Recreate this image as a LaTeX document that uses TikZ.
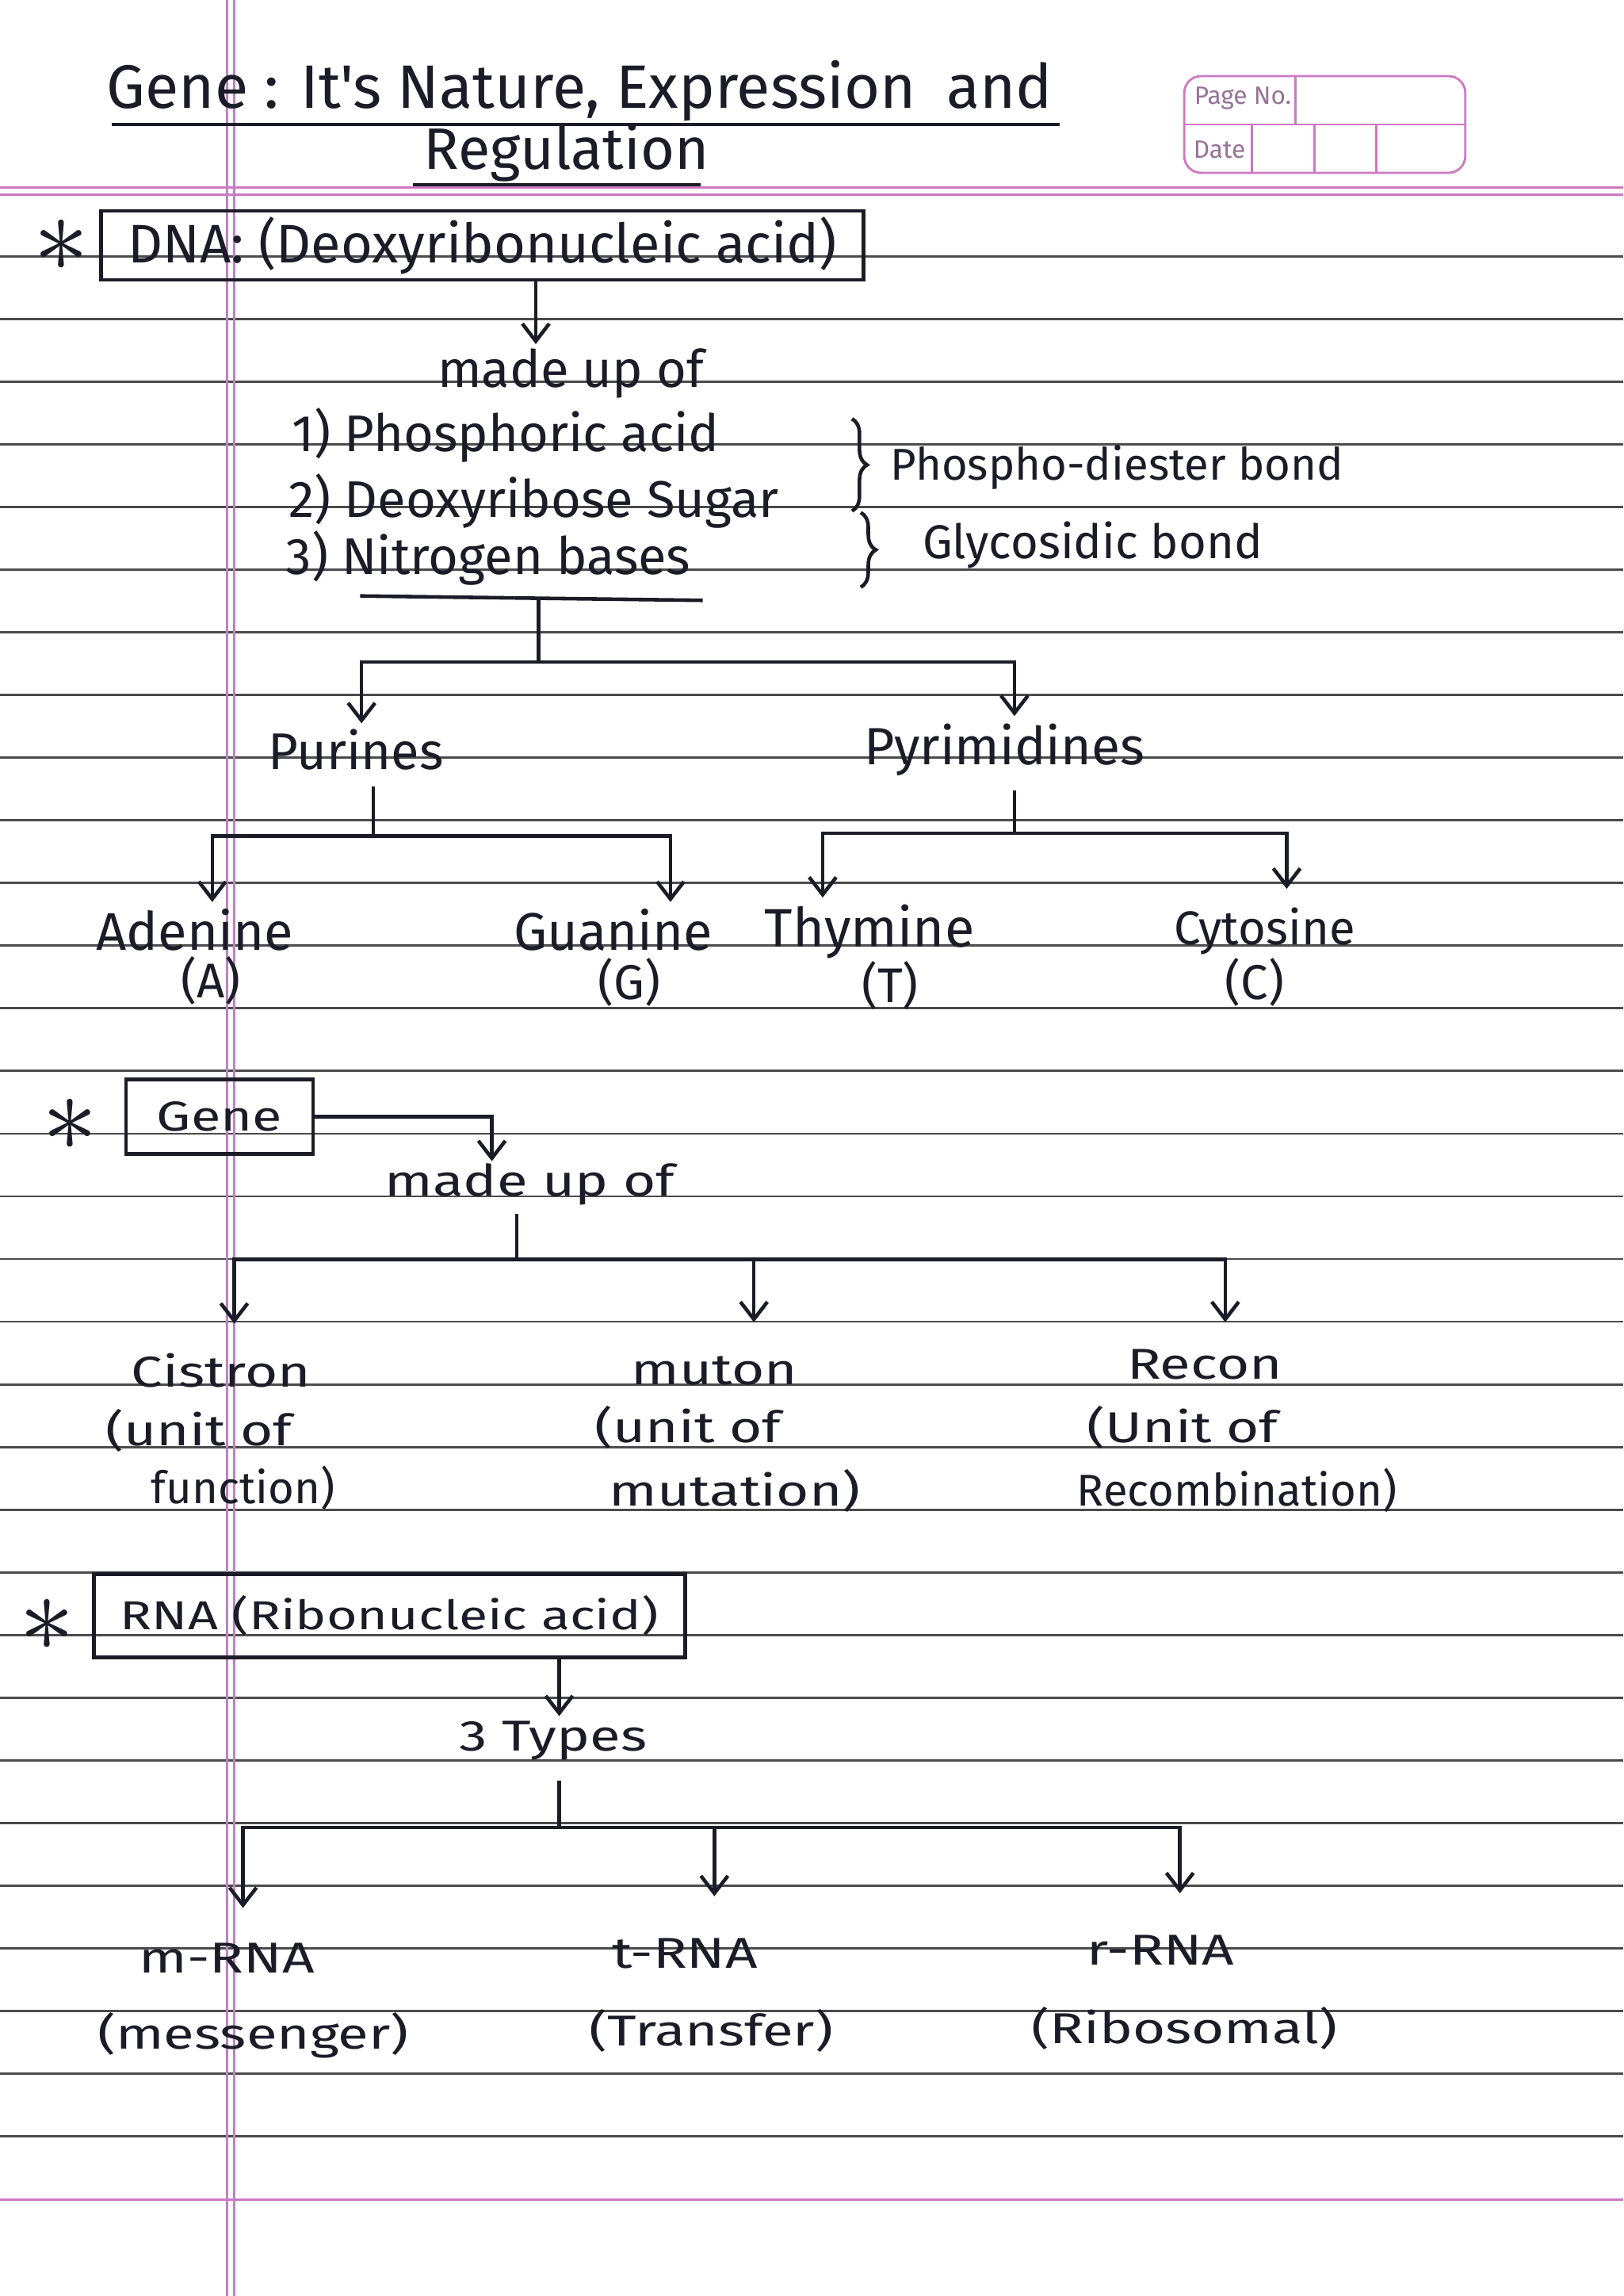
\documentclass[tikz,border=0pt]{standalone}
\usepackage{fontspec}
\setmainfont{Fira Sans}
\newfontfamily\handfont{Fira Sans}
\newfontfamily\widefont[FakeStretch=1.3]{Fira Sans}
\usetikzlibrary{arrows.meta,decorations.pathreplacing}
\definecolor{Ink}{RGB}{28,28,40}
\definecolor{RuleGray}{RGB}{75,75,75}
\definecolor{MarginPink}{RGB}{190,130,195}
\definecolor{BoxPink}{RGB}{205,120,195}
\definecolor{PageText}{RGB}{150,115,150}
\newcommand{\bigstar}{\scalebox{1.6}{$\ast$}}
\tikzset{
  hand/.style={font=\handfont\fontsize{#1}{#1}\selectfont,text=Ink,inner sep=1pt},
  hand/.default=16,
  wide/.style={font=\widefont\fontsize{#1}{#1}\selectfont,text=Ink,inner sep=1pt},
  wide/.default=15.5,
  heading/.style={draw=Ink,line width=1.3pt},
  starmark/.style={font=\fontsize{24}{24}\selectfont,text=Ink,inner sep=0pt},
  ink/.style={draw=Ink,line width=1.3pt},
  arr/.style={ink,-{Straight Barb[length=2.2mm,width=3.4mm]}},
  rule/.style={draw=RuleGray,line width=.8pt},
  margin/.style={draw=MarginPink,line width=.8pt},
  bracetip/.style={ink,decorate,decoration={brace,amplitude=1.9mm}},
  pagelabel/.style={font=\handfont\fontsize{9}{9}\selectfont,text=PageText,inner sep=0pt}
}
\begin{document}
\begin{tikzpicture}[x=0.1847mm,y=-0.1847mm]
  \useasboundingbox (0,0) rectangle (1109,1568);
  % ruled page
  \foreach \k in {0,...,30}{\draw[rule] (0,175+42.8*\k) -- (1109,175+42.8*\k);}
  \draw[margin,draw=BoxPink] (0,128) -- (1109,128) (0,133) -- (1109,133) (0,1502) -- (1109,1502);
  \draw[margin] (155,0) -- (155,1568) (160,0) -- (160,1568);
  % page no / date box
  \draw[BoxPink,line width=.8pt,rounded corners=6pt] (809,52) rectangle (1001,118);
  \draw[BoxPink,line width=.8pt] (809,85) -- (1001,85) (885,52) -- (885,85) (855,85) -- (855,118) (898,85) -- (898,118) (940,85) -- (940,118);
  \node[pagelabel] (pgno) at (849,67) {Page No.};
  \node[pagelabel] (pgdate) at (833,102) {Date};
  % title
  \node[hand=22] (title) at (396,62) {Gene : It's Nature, Expression\enspace and};
  \node[hand=21] (titleb) at (387,104) {Regulation};
  \draw[ink] ([xshift=1mm]title.south west) -- ([xshift=.5mm]title.south east);
  \draw[ink] ([xshift=-1mm]titleb.south west) -- ([xshift=-1.5mm]titleb.south east);

  % DNA
  \node[starmark] (s1) at (42,168) {\bigstar};
  \node[hand=19.5,heading,minimum width=96.2mm,minimum height=8.7mm] (dna) at (329.5,167.5) {DNA: (Deoxyribonucleic acid)};
  \coordinate (a0) at (366,235);
  \draw[arr] (dna.south -| a0) -- (a0);
  \node[hand=18.5] (made) at (390,255) {made up of};
  \node[hand=18.5,anchor=west] (p1) at (197,297) {1) Phosphoric acid};
  \node[hand=18.5,anchor=west] (p2) at (195,342) {2) Deoxyribose Sugar};
  \node[hand=18.5,anchor=west] (p3) at (193,381) {3) Nitrogen bases};
  \coordinate (b1a) at (582,286); \coordinate (b1b) at (582,349);
  \coordinate (b2a) at (588,350); \coordinate (b2b) at (588,401);
  \draw[bracetip] (b1a) -- (b1b);
  \draw[bracetip] (b2a) -- (b2b);
  \node[hand=16,anchor=west] (pd) at (606,319) {Phospho-diester bond};
  \node[hand=17,anchor=west] (gly) at (628,372) {Glycosidic bond};

  \coordinate (nbl) at (246,407); \coordinate (nbr) at (480,410);
  \draw[ink] (nbl) -- (nbr);
  \coordinate (j1a) at (368,409); \coordinate (j1) at (368,452);
  \draw[ink] (j1a) -- (j1);
  \coordinate (tpur) at (247,494); \coordinate (tpyr) at (693,489);
  \draw[arr] (j1) -| (tpur);
  \draw[arr] (j1) -| (tpyr);
  \node[hand=18.5] (pur) at (243,512) {Purines};
  \node[hand=18.8] (pyr) at (686,512) {Pyrimidines};

  \coordinate (j2a) at (255,537); \coordinate (j2) at (255,571);
  \coordinate (tA) at (145,616); \coordinate (tG) at (458,616);
  \draw[ink] (j2a) -- (j2);
  \foreach \t in {tA,tG}{\draw[arr] (j2) -| (\t);}
  \coordinate (j3a) at (693,540); \coordinate (j3) at (693,569);
  \coordinate (tT) at (562,613); \coordinate (tC) at (879,607);
  \draw[ink] (j3a) -- (j3);
  \foreach \t in {tT,tC}{\draw[arr] (j3) -| (\t);}

  \node[hand=19] (ade) at (133,635) {Adenine};
  \node[hand=17.5] (adeS) at (144,670) {(A)};
  \node[hand=19] (gua) at (419,635) {Guanine};
  \node[hand=17.5] (guaS) at (430,671) {(G)};
  \node[hand=19.5] (thy) at (594,636) {Thymine};
  \node[hand=17.5] (thyS) at (608,673) {(T)};
  \node[hand=17] (cyt) at (864,636) {Cytosine};
  \node[hand=17.5] (cytS) at (857,671) {(C)};

  % Gene
  \node[starmark] (s2) at (48,768) {\bigstar};
  \node[wide=15,heading,minimum width=23.6mm,minimum height=9.4mm] (gene) at (150,762.5) {Gene};
  \coordinate (tmade) at (336,793);
  \draw[arr] (gene.east) -| (tmade);
  \node[wide] (made2) at (362,809) {made up of};
  \coordinate (j4a) at (353,829); \coordinate (j4) at (353,860);
  \coordinate (tcis) at (160,904); \coordinate (tmut) at (515,903); \coordinate (trec) at (837,903);
  \draw[ink] (j4a) -- (j4);
  \foreach \t in {tcis,tmut,trec}{\draw[arr] (j4) -| (\t);}

  \node[wide] (cis) at (151,936) {Cistron};
  \node[wide] (cisA) at (136,977) {(unit of};
  \node[hand] (cisB) at (166,1016) {function)};
  \node[wide] (mut) at (488,936) {muton};
  \node[wide] (mutA) at (470,975) {(unit of};
  \node[wide] (mutB) at (502,1018) {mutation)};
  \node[wide] (rec) at (823,932) {Recon};
  \node[wide] (recA) at (808,975) {(Unit of};
  \node[hand] (recB) at (845,1018) {Recombination)};

  % RNA
  \node[starmark] (s3) at (32,1110) {\bigstar};
  \node[wide=14.5,heading,minimum width=74.6mm,minimum height=10.5mm] (rna) at (266,1103.5) {RNA (Ribonucleic acid)};
  \coordinate (ttypes) at (382,1172);
  \draw[arr] (rna.south -| ttypes) -- (ttypes);
  \node[wide] (types) at (378,1189) {3 Types};
  \coordinate (j5a) at (382,1216); \coordinate (j5) at (382,1248);
  \coordinate (tm) at (166,1303); \coordinate (tt) at (488,1295); \coordinate (tr) at (806,1293);
  \draw[ink] (j5a) -- (j5);
  \foreach \t in {tm,tt,tr}{\draw[arr] (j5) -| (\t);}

  \node[wide] (mrna) at (155,1337) {m-RNA};
  \node[wide] (mrnaT) at (173,1390) {(messenger)};
  \node[wide] (trna) at (468,1334) {t-RNA};
  \node[wide] (trnaT) at (486,1387) {(Transfer)};
  \node[wide] (rrna) at (793,1332) {r-RNA};
  \node[wide] (rrnaT) at (809,1385) {(Ribosomal)};
\end{tikzpicture}
\end{document}
